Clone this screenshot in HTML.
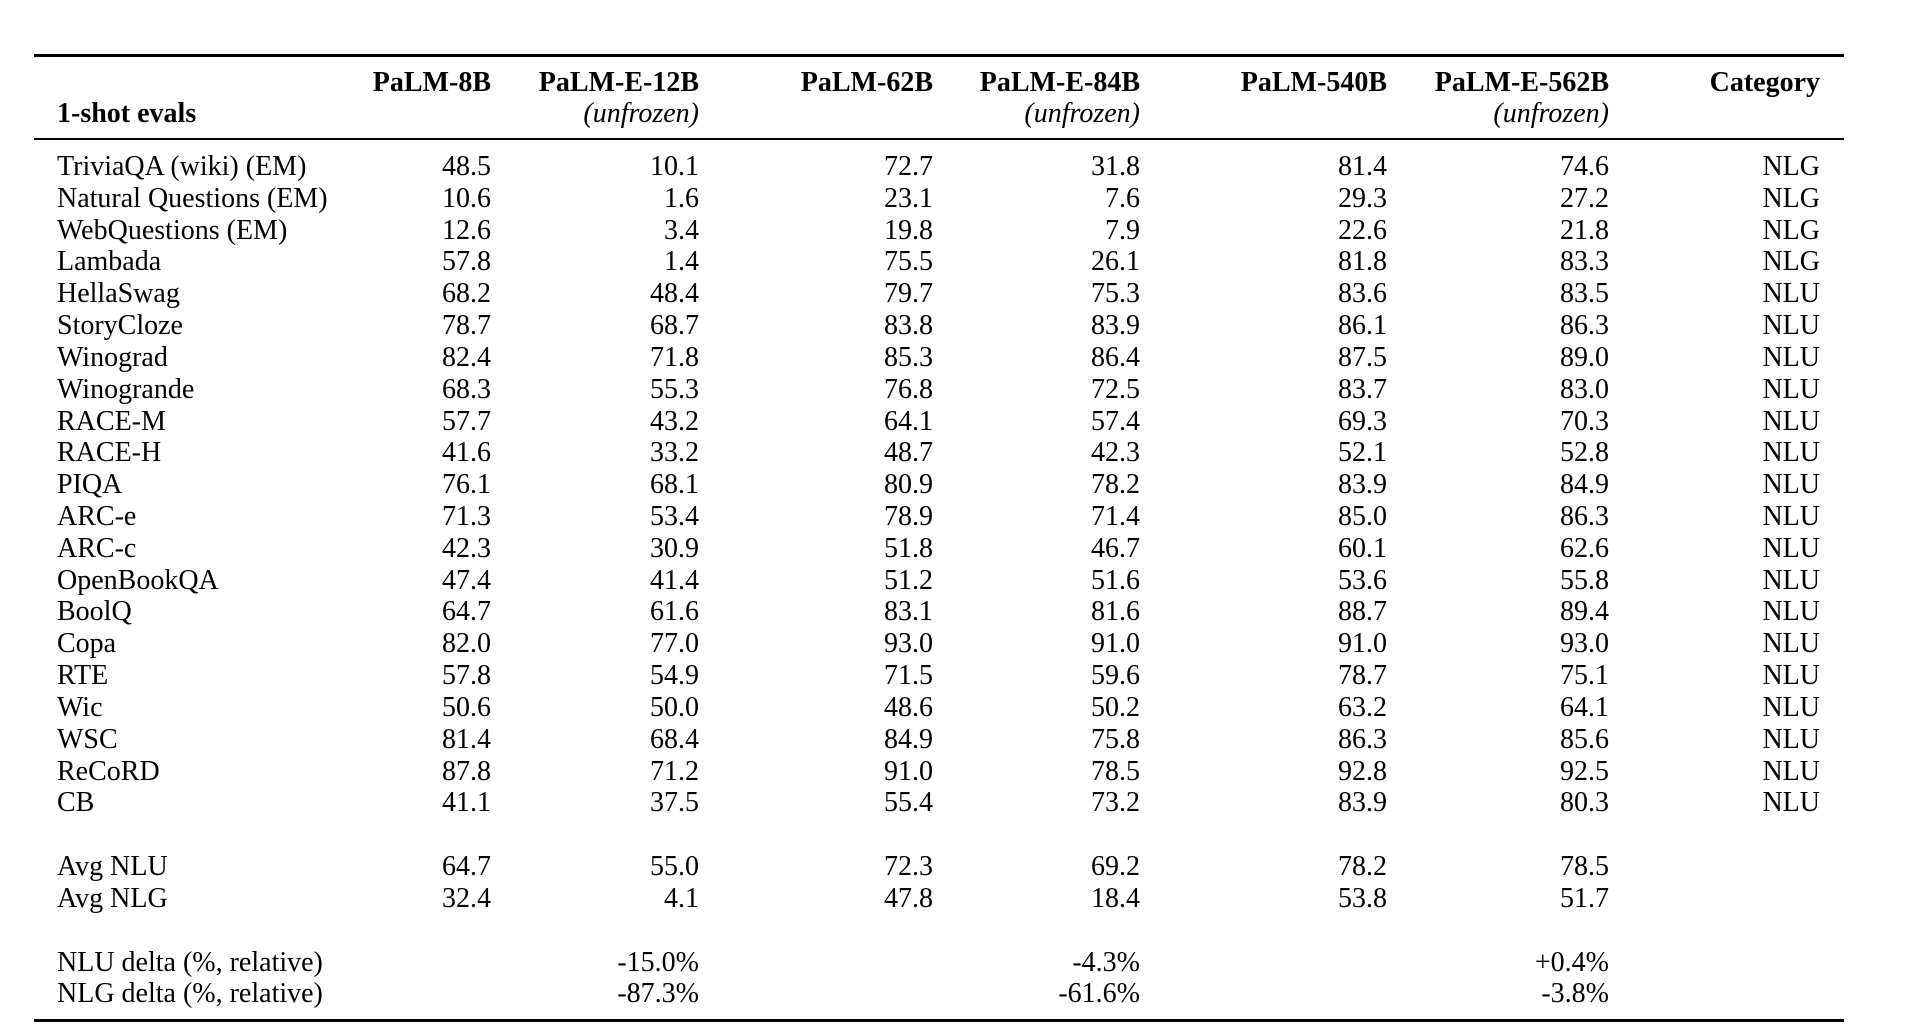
<!DOCTYPE html>
<html><head><meta charset="utf-8">
<style>
html,body{margin:0;padding:0;background:#fff;}
body{width:1910px;height:1036px;position:relative;overflow:hidden;font-family:"Liberation Serif","Times New Roman",serif;font-size:28px;color:#000;}
.rule{position:absolute;left:34px;width:1810px;background:#000;}
.r{position:absolute;left:0;width:1910px;height:32px;line-height:32px;white-space:nowrap;}
.r span{position:absolute;top:0;}
.l{left:57px;}
.c1{right:1419px}.c2{right:1211px}.c3{right:977px}.c4{right:770px}.c5{right:523px}.c6{right:301px}.c7{right:90px}
.b{font-weight:bold;}
.i{font-style:italic;}
</style></head><body>
<div class="rule" style="top:54px;height:3px"></div>
<div class="rule" style="top:138px;height:2px"></div>
<div class="rule" style="top:1019px;height:3px"></div>

<div class="r b" style="top:67px"><span class="c1">PaLM-8B</span><span class="c2">PaLM-E-12B</span><span class="c3">PaLM-62B</span><span class="c4">PaLM-E-84B</span><span class="c5">PaLM-540B</span><span class="c6">PaLM-E-562B</span><span class="c7">Category</span></div>
<div class="r" style="top:98px"><span class="l b">1-shot evals</span><span class="c2 i">(unfrozen)</span><span class="c4 i">(unfrozen)</span><span class="c6 i">(unfrozen)</span></div>

<div class="r" style="top:150.9px"><span class="l">TriviaQA (wiki) (EM)</span><span class="c1">48.5</span><span class="c2">10.1</span><span class="c3">72.7</span><span class="c4">31.8</span><span class="c5">81.4</span><span class="c6">74.6</span><span class="c7">NLG</span></div>
<div class="r" style="top:182.7px"><span class="l">Natural Questions (EM)</span><span class="c1">10.6</span><span class="c2">1.6</span><span class="c3">23.1</span><span class="c4">7.6</span><span class="c5">29.3</span><span class="c6">27.2</span><span class="c7">NLG</span></div>
<div class="r" style="top:214.5px"><span class="l">WebQuestions (EM)</span><span class="c1">12.6</span><span class="c2">3.4</span><span class="c3">19.8</span><span class="c4">7.9</span><span class="c5">22.6</span><span class="c6">21.8</span><span class="c7">NLG</span></div>
<div class="r" style="top:246.4px"><span class="l">Lambada</span><span class="c1">57.8</span><span class="c2">1.4</span><span class="c3">75.5</span><span class="c4">26.1</span><span class="c5">81.8</span><span class="c6">83.3</span><span class="c7">NLG</span></div>
<div class="r" style="top:278.2px"><span class="l">HellaSwag</span><span class="c1">68.2</span><span class="c2">48.4</span><span class="c3">79.7</span><span class="c4">75.3</span><span class="c5">83.6</span><span class="c6">83.5</span><span class="c7">NLU</span></div>
<div class="r" style="top:310px"><span class="l">StoryCloze</span><span class="c1">78.7</span><span class="c2">68.7</span><span class="c3">83.8</span><span class="c4">83.9</span><span class="c5">86.1</span><span class="c6">86.3</span><span class="c7">NLU</span></div>
<div class="r" style="top:341.8px"><span class="l">Winograd</span><span class="c1">82.4</span><span class="c2">71.8</span><span class="c3">85.3</span><span class="c4">86.4</span><span class="c5">87.5</span><span class="c6">89.0</span><span class="c7">NLU</span></div>
<div class="r" style="top:373.6px"><span class="l">Winogrande</span><span class="c1">68.3</span><span class="c2">55.3</span><span class="c3">76.8</span><span class="c4">72.5</span><span class="c5">83.7</span><span class="c6">83.0</span><span class="c7">NLU</span></div>
<div class="r" style="top:405.5px"><span class="l">RACE-M</span><span class="c1">57.7</span><span class="c2">43.2</span><span class="c3">64.1</span><span class="c4">57.4</span><span class="c5">69.3</span><span class="c6">70.3</span><span class="c7">NLU</span></div>
<div class="r" style="top:437.3px"><span class="l">RACE-H</span><span class="c1">41.6</span><span class="c2">33.2</span><span class="c3">48.7</span><span class="c4">42.3</span><span class="c5">52.1</span><span class="c6">52.8</span><span class="c7">NLU</span></div>
<div class="r" style="top:469.1px"><span class="l">PIQA</span><span class="c1">76.1</span><span class="c2">68.1</span><span class="c3">80.9</span><span class="c4">78.2</span><span class="c5">83.9</span><span class="c6">84.9</span><span class="c7">NLU</span></div>
<div class="r" style="top:500.9px"><span class="l">ARC-e</span><span class="c1">71.3</span><span class="c2">53.4</span><span class="c3">78.9</span><span class="c4">71.4</span><span class="c5">85.0</span><span class="c6">86.3</span><span class="c7">NLU</span></div>
<div class="r" style="top:532.7px"><span class="l">ARC-c</span><span class="c1">42.3</span><span class="c2">30.9</span><span class="c3">51.8</span><span class="c4">46.7</span><span class="c5">60.1</span><span class="c6">62.6</span><span class="c7">NLU</span></div>
<div class="r" style="top:564.6px"><span class="l">OpenBookQA</span><span class="c1">47.4</span><span class="c2">41.4</span><span class="c3">51.2</span><span class="c4">51.6</span><span class="c5">53.6</span><span class="c6">55.8</span><span class="c7">NLU</span></div>
<div class="r" style="top:596.4px"><span class="l">BoolQ</span><span class="c1">64.7</span><span class="c2">61.6</span><span class="c3">83.1</span><span class="c4">81.6</span><span class="c5">88.7</span><span class="c6">89.4</span><span class="c7">NLU</span></div>
<div class="r" style="top:628.2px"><span class="l">Copa</span><span class="c1">82.0</span><span class="c2">77.0</span><span class="c3">93.0</span><span class="c4">91.0</span><span class="c5">91.0</span><span class="c6">93.0</span><span class="c7">NLU</span></div>
<div class="r" style="top:660px"><span class="l">RTE</span><span class="c1">57.8</span><span class="c2">54.9</span><span class="c3">71.5</span><span class="c4">59.6</span><span class="c5">78.7</span><span class="c6">75.1</span><span class="c7">NLU</span></div>
<div class="r" style="top:691.8px"><span class="l">Wic</span><span class="c1">50.6</span><span class="c2">50.0</span><span class="c3">48.6</span><span class="c4">50.2</span><span class="c5">63.2</span><span class="c6">64.1</span><span class="c7">NLU</span></div>
<div class="r" style="top:723.7px"><span class="l">WSC</span><span class="c1">81.4</span><span class="c2">68.4</span><span class="c3">84.9</span><span class="c4">75.8</span><span class="c5">86.3</span><span class="c6">85.6</span><span class="c7">NLU</span></div>
<div class="r" style="top:755.5px"><span class="l">ReCoRD</span><span class="c1">87.8</span><span class="c2">71.2</span><span class="c3">91.0</span><span class="c4">78.5</span><span class="c5">92.8</span><span class="c6">92.5</span><span class="c7">NLU</span></div>
<div class="r" style="top:787.3px"><span class="l">CB</span><span class="c1">41.1</span><span class="c2">37.5</span><span class="c3">55.4</span><span class="c4">73.2</span><span class="c5">83.9</span><span class="c6">80.3</span><span class="c7">NLU</span></div>

<div class="r" style="top:850.6px"><span class="l">Avg NLU</span><span class="c1">64.7</span><span class="c2">55.0</span><span class="c3">72.3</span><span class="c4">69.2</span><span class="c5">78.2</span><span class="c6">78.5</span></div>
<div class="r" style="top:883.3px"><span class="l">Avg NLG</span><span class="c1">32.4</span><span class="c2">4.1</span><span class="c3">47.8</span><span class="c4">18.4</span><span class="c5">53.8</span><span class="c6">51.7</span></div>

<div class="r" style="top:946.6px"><span class="l">NLU delta (%, relative)</span><span class="c2">-15.0%</span><span class="c4">-4.3%</span><span class="c6">+0.4%</span></div>
<div class="r" style="top:978.3px"><span class="l">NLG delta (%, relative)</span><span class="c2">-87.3%</span><span class="c4">-61.6%</span><span class="c6">-3.8%</span></div>
</body></html>
